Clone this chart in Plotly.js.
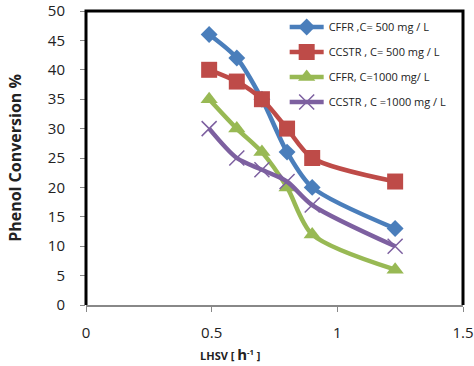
<!DOCTYPE html>
<html><head><meta charset="utf-8">
<script src="https://cdn.plot.ly/plotly-3.0.1.min.js"></script>
<style>html,body{margin:0;padding:0;background:#fff}</style>
</head><body><div id="chart" style="width:474px;height:366px"></div>
<script>
const lhsv = [0.49, 0.6, 0.7, 0.8, 0.9, 1.23];
const cffr500 = [46, 42, 35, 26, 20, 13];
const ccstr500 = [40, 38, 35, 30, 25, 21];
const cffr1000 = [35, 30, 26, 20, 12, 6];
const ccstr1000 = [30, 25, 23, 21, 17, 10];
const names = ["CFFR ,C= 500 mg / L", "CCSTR , C= 500 mg / L", "CFFR, C=1000 mg/ L", "CCSTR , C =1000 mg / L"];
const xTicks = [0, 0.5, 1, 1.5];
const xTickText = ["0", "0.5", "1", "1.5"];
const yTicks = [0, 5, 10, 15, 20, 25, 30, 35, 40, 45, 50];

const colors = ["#4A7EBB", "#BE4B48", "#98B954", "#7D60A0"];
const symbols = ["diamond", "square", "triangle-up", "x-thin"];
const sizes = [13, 16, 15, 15];
const series = [cffr500, ccstr500, cffr1000, ccstr1000];

const traces = series.map((ys, i) => ({
  x: lhsv, y: ys, name: names[i], type: "scatter", mode: "lines+markers",
  legendgroup: "g" + i,
  line: {color: colors[i], width: 4.5, shape: "spline", smoothing: 0.8},
  marker: {symbol: symbols[i], size: sizes[i], color: colors[i],
           line: {color: colors[i], width: i === 3 ? 1.5 : 0}}
}));

const layout = {
  width: 474, height: 366,
  margin: {l: 86, r: 11, t: 11, b: 61},
  paper_bgcolor: "#fff", plot_bgcolor: "#fff",
  font: {family: "Open Sans, Liberation Sans, sans-serif", color: "#222"},
  showlegend: true,
  legend: {x: 0.527, y: 0.995, xanchor: "left", yanchor: "top",
           bgcolor: "rgba(0,0,0,0)", font: {size: 11, color: "#222"},
           tracegroupgap: 6, itemwidth: 34},
  xaxis: {range: [0, 1.5], tickvals: xTicks, ticktext: xTickText,
          showgrid: false, zeroline: false, showline: true, linecolor: "#888", linewidth: 2,
          ticks: "outside", ticklen: 5, tickcolor: "#888", tickfont: {size: 15, color: "#222"},
          ticklabelstandoff: 8, ticklabeloverflow: "allow"},
  yaxis: {range: [0, 50], tickvals: yTicks,
          showgrid: false, zeroline: false, showline: false,
          ticks: "outside", ticklen: 5, tickcolor: "#888", tickfont: {size: 15, color: "#222"},
          ticklabelstandoff: 12, ticklabeloverflow: "allow",
          title: {text: "<b>Phenol Conversion %</b>", font: {size: 16, color: "#222"}, standoff: 22}},
  annotations: [{xref: "paper", yref: "paper", x: (230 - 86) / 377, y: -0.165,
                 xanchor: "center", yanchor: "middle", showarrow: false,
                 text: "<b>LHSV [ <span style='font-size:15px'>h</span><sup>-1</sup> ]</b>",
                 font: {size: 11, color: "#222"}}],
  shapes: [{type: "path", xref: "paper", yref: "paper",
            path: "M0,0 L0,1 L1,1 L1,0", line: {color: "#000", width: 3}}]
};
Plotly.newPlot("chart", traces, layout, {displayModeBar: false, staticPlot: true});
</script></body></html>
